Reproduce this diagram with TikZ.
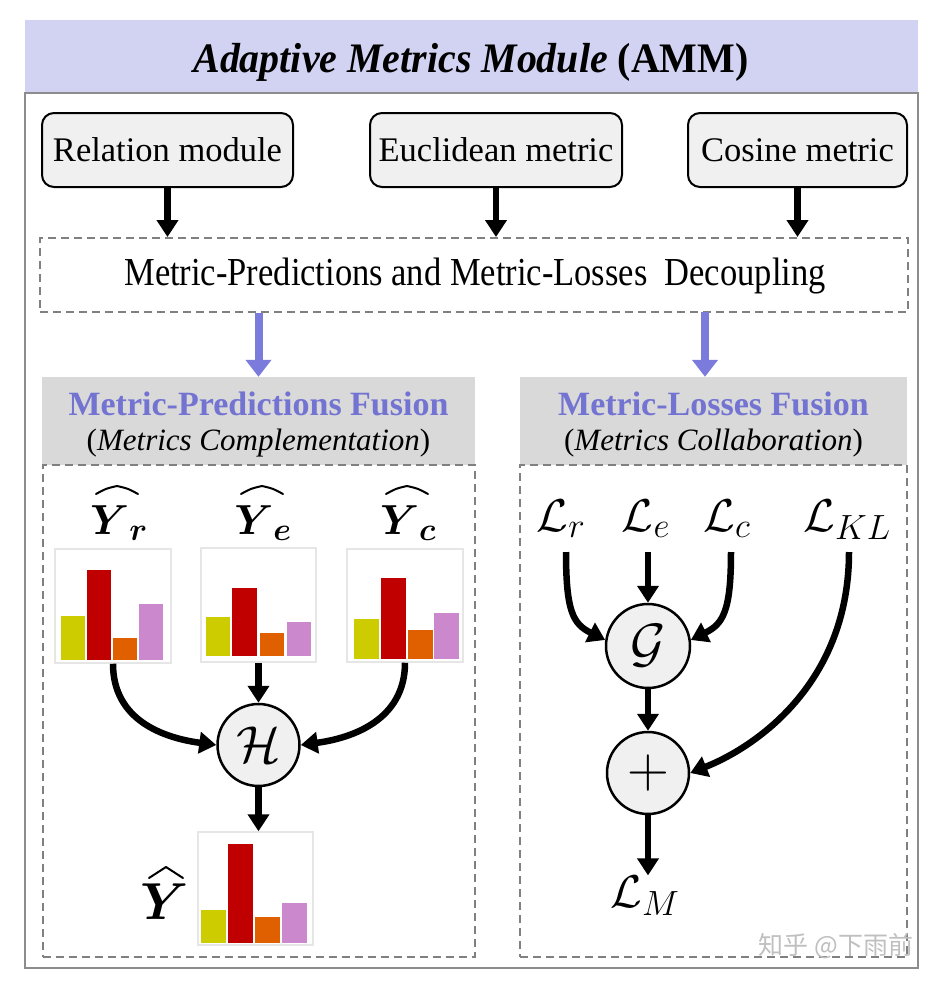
\RequirePackage{fix-cm}
\documentclass[tikz,border=0pt]{standalone}
\usepackage{amsmath}
\usepackage{fontspec}
\setmainfont{Liberation Serif}
\newfontfamily\cjkfont{Noto Sans CJK SC}
\usetikzlibrary{arrows.meta}
\DeclareMathSizes{46}{46}{35}{28}
\DeclareMathSizes{42}{42}{32}{26}
\DeclareMathSizes{52}{52}{40}{30}
\definecolor{titlebg}{RGB}{210,210,242}
\definecolor{outerc}{RGB}{140,140,140}
\definecolor{boxfill}{RGB}{240,240,240}
\definecolor{dashc}{RGB}{128,128,128}
\definecolor{headbg}{RGB}{217,217,217}
\definecolor{headtxt}{RGB}{115,115,210}
\definecolor{bluearr}{RGB}{123,123,220}
\definecolor{cy}{RGB}{204,204,0}
\definecolor{cr}{RGB}{192,0,0}
\definecolor{co}{RGB}{224,96,0}
\definecolor{cp}{RGB}{204,136,204}
\definecolor{chartb}{RGB}{230,230,230}
\begin{document}
\begin{tikzpicture}[x=1pt,y=-1pt,
  topbox/.style={draw=black, line width=2pt, fill=boxfill, rounded corners=12pt,
    font=\fontsize{34.5}{40}\selectfont, inner sep=0pt},
  dashbox/.style={draw=dashc, line width=2pt, dash pattern=on 8pt off 5pt, inner sep=0pt},
  headbox/.style={fill=headbg, draw=none, inner sep=0pt},
  headtitle/.style={text=headtxt, font=\fontsize{34}{40}\selectfont\bfseries, inner sep=0pt},
  headsub/.style={text=black, font=\fontsize{31}{36}\selectfont, inner sep=0pt},
  chartbox/.style={draw=chartb, line width=1.5pt, fill=white, inner sep=0pt},
  opcircle/.style={circle, draw=black, line width=2.5pt, fill=boxfill, minimum size=82pt, inner sep=0pt},
  blk/.style={draw=black, line width=6.5pt, -{Triangle[length=17pt,width=21pt]}},
  bluearrow/.style={draw=bluearr, line width=8pt, -{Triangle[length=17pt,width=25pt]}},
  ylbl/.style={inner sep=0pt, font=\fontsize{42}{46}\selectfont},
  hatline/.style={draw=black, line width=2pt, line cap=round, line join=round},
  llbl/.style={inner sep=0pt, anchor=base, font=\fontsize{46}{50}\selectfont}
]
\useasboundingbox (0,0) rectangle (948,986);
\fill[white] (0,0) rectangle (948,986);

% title band and outer frame
\fill[titlebg] (25,20) rectangle (918,93);
\node[anchor=base, inner sep=0pt] (title) at (471,72)
  {\fontsize{42}{48}\selectfont\scalebox{0.95}[1]{\textbf{\textit{Adaptive Metrics Module}} \textbf{(AMM)}}};
\draw[outerc, line width=2.5pt] (25,93) rectangle (918,968);

% metric boxes
\node[topbox, minimum width=251pt, minimum height=74pt] (rel) at (167.5,150) {Relation module};
\node[topbox, minimum width=252pt, minimum height=74pt] (euc) at (496,150) {Euclidean metric};
\node[topbox, minimum width=219pt, minimum height=74pt] (cos) at (797.5,150) {Cosine metric};

% decoupling box
\node[dashbox, minimum width=868pt, minimum height=74pt] (dec) at (474,275) {};
\node[inner sep=0pt] (dect) at (475,276)
  {\fontsize{34.5}{40}\selectfont\scalebox{1}[1.15]{Metric-Predictions and Metric-Losses\ \ Decoupling}};

\draw[blk] (rel.south) -- (rel.south |- dec.north);
\draw[blk] (euc.south) -- (euc.south |- dec.north);
\draw[blk] (cos.south) -- (cos.south |- dec.north);

% section headers
\node[headbox, minimum width=433pt, minimum height=88pt] (lhead) at (258.5,421) {};
\node[headbox, minimum width=387pt, minimum height=88pt] (rhead) at (713.5,421) {};
\node[headtitle] (lht) at (258.5,404) {Metric-Predictions\ Fusion};
\node[headsub] (lhs) at (258.5,443) {(\textit{Metrics Complementation})};
\node[headtitle] (rht) at (713.5,404) {Metric-Losses Fusion};
\node[headsub] (rhs) at (713.5,443) {(\textit{Metrics Collaboration})};

\coordinate (rbl) at (705,312);
\draw[bluearrow] (dec.south -| lhead.north) -- (lhead.north);
\draw[bluearrow] (rbl) -- (rbl |- rhead.north);

% panels
\node[dashbox, minimum width=432pt, minimum height=492pt] (lpanel) at (258.5,711) {};
\node[dashbox, minimum width=387pt, minimum height=492pt] (rpanel) at (713.5,711) {};

% ---------- left panel ----------
\node[ylbl] (yr) at (119,523) {$\boldsymbol{Y}_{\boldsymbol{r}}$};
\node[ylbl] (ye) at (263,523) {$\boldsymbol{Y}_{\boldsymbol{e}}$};
\node[ylbl] (yc) at (408,523) {$\boldsymbol{Y}_{\boldsymbol{c}}$};
\draw[hatline] (96,494) .. controls (106,488.5) .. (117,486) .. controls (128,488.5) .. (138,494);
\draw[hatline] (241,494) .. controls (251,488.5) .. (262,486) .. controls (273,488.5) .. (283,494);
\draw[hatline] (386,494) .. controls (396,488.5) .. (407,486) .. controls (418,488.5) .. (428,494);

\node[chartbox, minimum width=116pt, minimum height=114pt] (c1) at (113,606) {};
\node[chartbox, minimum width=115pt, minimum height=114pt] (c2) at (258.5,605) {};
\node[chartbox, minimum width=116pt, minimum height=113pt] (c3) at (405,605.5) {};
\node[chartbox, minimum width=115pt, minimum height=113pt] (cout) at (255.5,888.5) {};

% bars chart 1
\fill[cy] (61,660) rectangle (85,616);
\fill[cr] (87,660) rectangle (111,570);
\fill[co] (113,660) rectangle (137,638);
\fill[cp] (139,660) rectangle (163,604);
% bars chart 2
\fill[cy] (206,656) rectangle (230,617);
\fill[cr] (232,656) rectangle (257,588);
\fill[co] (260,656) rectangle (284,633);
\fill[cp] (287,656) rectangle (311,622);
% bars chart 3
\fill[cy] (354,659) rectangle (379,619);
\fill[cr] (381,659) rectangle (406,578);
\fill[co] (408,659) rectangle (433,630);
\fill[cp] (434,659) rectangle (459,613);
% bars output
\fill[cy] (201,943) rectangle (226,910);
\fill[cr] (228,943) rectangle (253,844);
\fill[co] (255,943) rectangle (280,917);
\fill[cp] (282,943) rectangle (307,903);

\node[opcircle] (H) at (258.5,745) {\fontsize{52}{56}\selectfont$\mathcal{H}$};

\draw[blk] (c1.south) .. controls +(0,57) and +(-52,-7) .. (H.west);
\draw[blk] (c3.south) .. controls +(0,57) and +(52,-7) .. (H.east);
\draw[blk] (c2.south) -- (c2.south |- H.north);
\draw[blk] (H.south) -- (H.south |- cout.north);

\node[ylbl, font=\fontsize{52}{56}\selectfont] (yhat) at (165,902) {$\boldsymbol{Y}$};
\draw[hatline] (149,878) .. controls (157,872.5) .. (166,867) .. controls (175,872.5) .. (183,878);

% ---------- right panel ----------
\node[llbl] (Lr) at (561,531) {$\mathcal{L}_{r}$};
\node[llbl] (Le) at (646,531) {$\mathcal{L}_{e}$};
\node[llbl] (Lc) at (727,531) {$\mathcal{L}_{c}$};
\node[llbl] (Lkl) at (847,531) {$\mathcal{L}_{KL}$};

\coordinate (sLr) at (566,552);
\coordinate (sLe) at (648,552);
\coordinate (sLc) at (731,552);
\coordinate (sLkl) at (849,552);

\node[opcircle, minimum size=84pt] (G) at (648,646) {\fontsize{54}{58}\selectfont$\mathcal{G}$};
\node[opcircle] (P) at (648,773) {\fontsize{58}{60}\selectfont$+$};

\draw[blk] (sLr) .. controls +(0,60) and +(-32,-16) .. (G.172);
\draw[blk] (sLc) .. controls +(0,60) and +(32,-16) .. (G.8);
\draw[blk] (sLe) -- (sLe |- G.north);
\draw[blk] (sLkl) .. controls +(0,128) and +(70,-28) .. (P.east);
\draw[blk] (G.south) -- (P.north);

\node[llbl] (LM) at (645,907) {$\mathcal{L}_{M}$};
\draw[blk] (P.south) -- (P.south |- LM.north);

% watermark
\node[inner sep=0pt, text=black!25, font=\cjkfont\fontsize{25}{28}\selectfont] (wm) at (836,946) {知乎 @下雨前};
\end{tikzpicture}
\end{document}
